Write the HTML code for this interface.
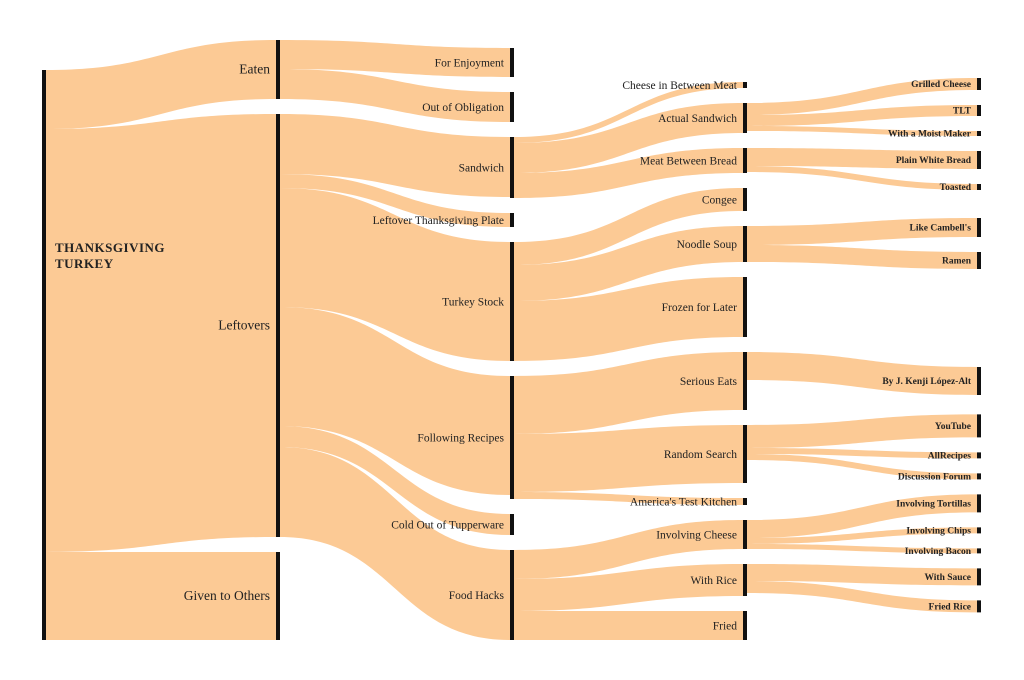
<!DOCTYPE html>
<html><head><meta charset="utf-8"><style>
html,body{margin:0;padding:0;background:#fff;}
svg{display:block;}
text{font-family:"Liberation Serif",serif;fill:#222;}
</style></head><body>
<svg id="chart" width="1024" height="680" viewBox="0 0 1024 680">
<g id="links"></g>
<g id="nodes"></g>
<g id="labels"></g>
</svg>
<script>
const nodeNames = ["THANKSGIVING TURKEY","Eaten","Leftovers","Given to Others",
"For Enjoyment","Out of Obligation","Sandwich","Leftover Thanksgiving Plate","Turkey Stock","Following Recipes","Cold Out of Tupperware","Food Hacks",
"Cheese in Between Meat","Actual Sandwich","Meat Between Bread","Congee","Noodle Soup","Frozen for Later","Serious Eats","Random Search","America's Test Kitchen","Involving Cheese","With Rice","Fried",
"Grilled Cheese","TLT","With a Moist Maker","Plain White Bread","Toasted","Like Cambell's","Ramen","By J. Kenji López-Alt","YouTube","AllRecipes","Discussion Forum","Involving Tortillas","Involving Chips","Involving Bacon","With Sauce","Fried Rice"];
const nodeCols = [0,1,1,1,2,2,2,2,2,2,2,2,3,3,3,3,3,3,3,3,3,3,3,3,4,4,4,4,4,4,4,4,4,4,4,4,4,4,4,4];
const linkSources = ["THANKSGIVING TURKEY","THANKSGIVING TURKEY","THANKSGIVING TURKEY",
"Eaten","Eaten","Leftovers","Leftovers","Leftovers","Leftovers","Leftovers","Leftovers",
"Sandwich","Sandwich","Sandwich","Turkey Stock","Turkey Stock","Turkey Stock","Following Recipes","Following Recipes","Following Recipes","Food Hacks","Food Hacks","Food Hacks",
"Actual Sandwich","Actual Sandwich","Actual Sandwich","Meat Between Bread","Meat Between Bread","Noodle Soup","Noodle Soup","Serious Eats","Random Search","Random Search","Random Search","Involving Cheese","Involving Cheese","Involving Cheese","With Rice","With Rice"];
const linkTargets = ["Eaten","Leftovers","Given to Others",
"For Enjoyment","Out of Obligation","Sandwich","Leftover Thanksgiving Plate","Turkey Stock","Following Recipes","Cold Out of Tupperware","Food Hacks",
"Cheese in Between Meat","Actual Sandwich","Meat Between Bread","Congee","Noodle Soup","Frozen for Later","Serious Eats","Random Search","America's Test Kitchen","Involving Cheese","With Rice","Fried",
"Grilled Cheese","TLT","With a Moist Maker","Plain White Bread","Toasted","Like Cambell's","Ramen","By J. Kenji López-Alt","YouTube","AllRecipes","Discussion Forum","Involving Tortillas","Involving Chips","Involving Bacon","With Sauce","Fried Rice"];
const linkValues = [59,423,88,
29,30,60,14,119,119,21,90,
6,30,25,23,36,60,58,58,7,29,32,29,
12,11,5,18,6,19,17,28,23,6,6,18,6,5,17,12];

const NS="http://www.w3.org/2000/svg";
const colX=[42,276,510,743,977], barW=4, Y0=40, Y1=640, PAD=15;
const fontSizes=[13,13.5,11.5,11.5,9.5];
const nodes=nodeNames.map((n,i)=>({name:n,col:nodeCols[i],idx:i,ins:[],outs:[]}));
const byName={}; nodes.forEach(n=>byName[n.name]=n);
const links=linkSources.map((s,i)=>({s:byName[s],t:byName[linkTargets[i]],v:linkValues[i]}));
links.forEach(l=>{l.s.outs.push(l);l.t.ins.push(l);});
nodes.forEach(n=>{n.value=Math.max(n.ins.reduce((a,l)=>a+l.v,0),n.outs.reduce((a,l)=>a+l.v,0));});
const cols=[0,1,2,3,4].map(c=>nodes.filter(n=>n.col===c));
let k=Infinity;
cols.forEach(c=>{const s=c.reduce((a,n)=>a+n.value,0);k=Math.min(k,(Y1-Y0-(c.length-1)*PAD)/s);});
nodes.forEach(n=>n.h=n.value*k);
for(let c=0;c<4;c++){let y=Y1;for(let i=cols[c].length-1;i>=0;i--){const n=cols[c][i];n.y1=y;n.y0=y-n.h;y=n.y0-PAD;}}
const c4=cols[4];
c4.forEach(n=>{let w=0,s=0;n.ins.forEach(l=>{s+=l.v*(l.s.y0+l.s.y1)/2;w+=l.v;});n.ideal=s/w-n.h/2;});
let clusters=[];
c4.forEach(n=>{let cl={nodes:[n],off:[0],h:n.h};cl.top=n.ideal;clusters.push(cl);
  while(clusters.length>1){const a=clusters[clusters.length-2],b=clusters[clusters.length-1];
    if(a.top+a.h+PAD>b.top){const base=a.h+PAD;const m={nodes:a.nodes.concat(b.nodes),off:a.off.concat(b.off.map(o=>o+base)),h:base+b.h};
      m.top=m.nodes.reduce((s,nn,i)=>s+nn.ideal-m.off[i],0)/m.nodes.length;clusters.splice(-2,2,m);}else break;}});
clusters.forEach(cl=>{cl.top=Math.max(Y0,Math.min(Y1-cl.h,cl.top));cl.nodes.forEach((n,i)=>{n.y0=cl.top+cl.off[i];n.y1=n.y0+n.h;});});
nodes.forEach(n=>{n.outs.sort((a,b)=>a.t.y0-b.t.y0);let y=n.y0;n.outs.forEach(l=>{l.sy=y;y+=l.v*k;});
  n.ins.sort((a,b)=>a.s.y0-b.s.y0);y=n.y0;n.ins.forEach(l=>{l.ty=y;y+=l.v*k;});});
const gL=document.getElementById('links'),gN=document.getElementById('nodes'),gT=document.getElementById('labels');
links.forEach(l=>{const x0=colX[l.s.col]+barW,x1=colX[l.t.col],xm=(x0+x1)/2,w=l.v*k;
  const p=document.createElementNS(NS,'path');
  p.setAttribute('d',`M${x0},${l.sy}C${xm},${l.sy} ${xm},${l.ty} ${x1},${l.ty}L${x1},${l.ty+w}C${xm},${l.ty+w} ${xm},${l.sy+w} ${x0},${l.sy+w}Z`);
  p.setAttribute('fill','#fcca95');
  
  
  gL.appendChild(p);});
nodes.forEach(n=>{const r=document.createElementNS(NS,'rect');
  r.setAttribute('x',colX[n.col]);r.setAttribute('y',n.y0);r.setAttribute('width',barW);r.setAttribute('height',Math.max(n.h,1));r.setAttribute('fill','#111');
  
  
  gN.appendChild(r);
  const t=document.createElementNS(NS,'text');
  
  
  t.setAttribute('font-size',fontSizes[n.col]);
  if(n.col===0){t.setAttribute('x',55);t.setAttribute('y',252);t.setAttribute('font-weight','bold');t.setAttribute('letter-spacing','0.5');
    const words=n.name.split(' ');words.forEach((w,i)=>{const ts=document.createElementNS(NS,'tspan');ts.setAttribute('x',55);ts.setAttribute('dy',i?16:0);ts.textContent=w;t.appendChild(ts);});}
  else{t.setAttribute('x',colX[n.col]-6);t.setAttribute('y',(n.y0+n.y1)/2+(n.col===4?3:4));t.setAttribute('text-anchor','end');
    if(n.col===4)t.setAttribute('font-weight','bold');t.textContent=n.name;}
  gT.appendChild(t);});
</script>
</body></html>
